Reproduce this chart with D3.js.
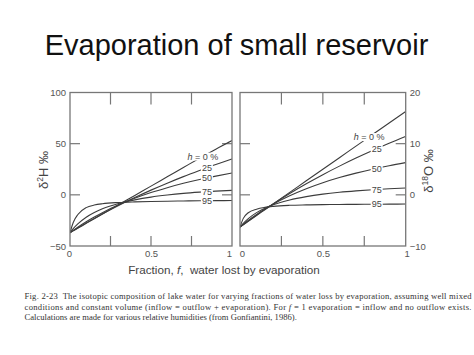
<!DOCTYPE html>
<html><head><meta charset="utf-8">
<script src="https://cdn.jsdelivr.net/npm/d3@7"></script>
<style>body{margin:0;background:#fff}svg{display:block}</style>
</head><body>
<script>
// ---- data ----
const fraction = [0, 0.02, 0.05, 0.1, 0.15, 0.2, 0.3, 0.4, 0.5, 0.6, 0.7, 0.8, 0.9, 1];
const humidity = ["0", "25", "50", "75", "95"];

// δ2H ‰ (left panel)
const d2H_h0  = [-37, -35.2, -32.5, -27.9, -23.4, -18.8, -9.7, -0.6, 8.5, 17.6, 26.7, 35.8, 44.6, 53];
const d2H_h25 = [-37, -35.0, -32.2, -27.5, -23.0, -18.7, -10.4, -2.7, 4.6, 11.4, 17.8, 23.8, 29.6, 35];
const d2H_h50 = [-37, -34.7, -31.4, -26.3, -21.7, -17.4, -9.8, -3.4, 2.2, 7.0, 11.3, 15.0, 18.3, 21.3];
const d2H_h75 = [-37, -33.1, -28.2, -21.9, -17.3, -13.7, -8.5, -4.9, -2.2, -0.2, 1.4, 2.6, 3.6, 4.4];
const d2H_h95 = [-37, -27, -19, -12.5, -10, -8.7, -7.5, -6.9, -6.5, -6.2, -6.0, -5.8, -5.7, -5.6];

// δ18O ‰ (right panel)
const d18O_h0  = [-6.3, -5.85, -5.17, -4.04, -2.91, -1.78, 0.48, 2.74, 5.0, 7.26, 9.52, 11.78, 14.04, 16.3];
const d18O_h25 = [-6.3, -5.82, -5.11, -3.96, -2.85, -1.78, 0.26, 2.16, 3.94, 5.61, 7.19, 8.67, 10.07, 11.4];
const d18O_h50 = [-6.3, -5.76, -4.99, -3.83, -2.78, -1.83, -0.19, 1.19, 2.36, 3.37, 4.24, 5.01, 5.69, 6.3];
const d18O_h75 = [-6.3, -5.56, -4.64, -3.48, -2.62, -1.95, -1.0, -0.35, 0.13, 0.49, 0.77, 1.0, 1.19, 1.35];
const d18O_h95 = [-6.3, -4.6, -3.5, -2.8, -2.45, -2.25, -2.05, -1.97, -1.92, -1.88, -1.86, -1.84, -1.82, -1.8];

const xTickValues = [0, 0.25, 0.5, 0.75, 1];
const xTickLabels = {0: "0", 0.5: "0.5", 1: "1"};
const d2HTicks = [100, 50, 0, -50];
const d18OTicks = [20, 10, 0, -10];

const captionLines = [
  "Fig. 2-23  The isotopic composition of lake water for varying fractions of water loss by evaporation, assuming well mixed",
  ["conditions and constant volume (inflow = outflow + evaporation). For ", "f", " = 1 evaporation = inflow and no outflow exists."],
  "Calculations are made for various relative humidities (from Gonfiantini, 1986)."
];

// ---- drawing ----
const W = 474, H = 355;
const svg = d3.select("body").append("svg").attr("width", W).attr("height", H)
  .style("font-family", "'Liberation Sans', Arial, sans-serif");

svg.append("text").attr("x", 236.5).attr("y", 55).attr("text-anchor", "middle")
  .attr("font-size", 29).attr("fill", "#111").text("Evaporation of small reservoir");

const plotTop = 92.5, plotBot = 246;
const ink = "#3c3c3c", frame = "#777";

function panel(opts) {
  const x = d3.scaleLinear().domain([0, 1]).range([opts.x0, opts.x1]);
  const y = d3.scaleLinear().domain(opts.yDomain).range([plotBot, plotTop]);
  const g = svg.append("g");
  const id = "clip" + opts.name;
  svg.append("clipPath").attr("id", id).append("rect")
    .attr("x", opts.x0).attr("y", plotTop).attr("width", opts.x1 - opts.x0).attr("height", plotBot - plotTop);

  const inner = opts.yTicks.slice(1, -1);
  g.selectAll(".yl").data(inner).join("line")
    .attr("x1", opts.x0).attr("x2", opts.x0 + 10).attr("y1", d => y(d)).attr("y2", d => y(d))
    .attr("stroke", frame).attr("stroke-width", 1.2);
  g.selectAll(".yr").data(inner).join("line")
    .attr("x1", opts.x1).attr("x2", opts.x1 - 10).attr("y1", d => y(d)).attr("y2", d => y(d))
    .attr("stroke", frame).attr("stroke-width", 1.2);
  const mid = xTickValues.slice(1, -1);
  g.selectAll(".xt").data(mid).join("line")
    .attr("x1", d => x(d)).attr("x2", d => x(d)).attr("y1", plotTop).attr("y2", plotTop + 12)
    .attr("stroke", frame).attr("stroke-width", 1.2);
  g.selectAll(".xb").data(mid).join("line")
    .attr("x1", d => x(d)).attr("x2", d => x(d)).attr("y1", plotBot).attr("y2", plotBot - 10)
    .attr("stroke", frame).attr("stroke-width", 1.2);

  const yAxis = (opts.side === "left" ? d3.axisLeft(y) : d3.axisRight(y))
    .tickValues(opts.yTicks).tickSize(0).tickPadding(4).tickFormat(d3.format("d"));
  const ya = g.append("g").attr("transform", `translate(${opts.side === "left" ? opts.x0 : opts.x1},0)`).call(yAxis);
  ya.select(".domain").remove();
  ya.selectAll("text").attr("font-size", 9.5).attr("fill", "#555")
    .attr("font-family", "'Liberation Sans', Arial, sans-serif");

  const xAxis = d3.axisBottom(x).tickValues(xTickValues).tickSize(0).tickPadding(4)
    .tickFormat(d => xTickLabels[d] || "");
  const xa = g.append("g").attr("transform", `translate(0,${plotBot})`).call(xAxis);
  xa.select(".domain").remove();
  xa.selectAll("text").attr("font-size", 9.5).attr("fill", "#555")
    .attr("font-family", "'Liberation Sans', Arial, sans-serif")
    .attr("dx", d => d === 1 ? opts.endShift : (d === 0 ? opts.startShift : 0));

  const line = d3.line().x((d, i) => x(fraction[i])).y(d => y(d)).curve(d3.curveMonotoneX);
  g.append("g").attr("clip-path", `url(#${id})`).selectAll("path").data(opts.series).join("path")
    .attr("d", d => line(d)).attr("fill", "none").attr("stroke", ink).attr("stroke-width", 1.1);

  g.append("rect").attr("x", opts.x0).attr("y", plotTop).attr("width", opts.x1 - opts.x0).attr("height", plotBot - plotTop)
    .attr("fill", "none").attr("stroke", frame).attr("stroke-width", 1.3);

  const valAt = (s, f) => {
    const i = d3.bisectRight(fraction, f) - 1;
    const t = (f - fraction[i]) / (fraction[i + 1] - fraction[i]);
    return s[i] + t * (s[i + 1] - s[i]);
  };
  opts.series.forEach((s, k) => {
    const f = k === 0 ? opts.labelF0 : opts.labelF;
    const lg = g.append("g");
    const bg = lg.append("rect").attr("fill", "#fff");
    const t = lg.append("text").attr("x", x(f)).attr("y", y(valAt(s, f)) + 3.2)
      .attr("text-anchor", "middle").attr("font-size", 9).attr("fill", "#444");
    if (k === 0) {
      t.append("tspan").attr("font-style", "italic").text("h");
      t.append("tspan").text(" = 0 %");
    } else {
      t.text(humidity[k]);
    }
    const bb = t.node().getBBox();
    bg.attr("x", bb.x - 1).attr("y", bb.y + 1).attr("width", bb.width + 2).attr("height", bb.height - 2);
  });

  const yt = svg.append("text").attr("transform", `translate(${opts.titleX},${opts.titleY}) rotate(-90)`)
    .attr("text-anchor", "middle").attr("font-size", 13).attr("fill", "#444");
  yt.append("tspan").text("δ");
  yt.append("tspan").attr("font-size", 8.5).attr("dy", -5).text(opts.sup);
  yt.append("tspan").attr("dy", 5).text(opts.elem + " ‰");
}

panel({
  name: "L", x0: 70, x1: 232, yDomain: [-50, 100], yTicks: d2HTicks, side: "left",
  series: [d2H_h0, d2H_h25, d2H_h50, d2H_h75, d2H_h95],
  labelF0: 0.82, labelF: 0.845, startShift: -1, endShift: -3,
  titleX: 48, titleY: 170, sup: "2", elem: "H"
});
panel({
  name: "R", x0: 240, x1: 405.7, yDomain: [-10, 20], yTicks: d18OTicks, side: "right",
  series: [d18O_h0, d18O_h25, d18O_h50, d18O_h75, d18O_h95],
  labelF0: 0.78, labelF: 0.825, startShift: 2, endShift: 1,
  titleX: 433, titleY: 171, sup: "18", elem: "O"
});

const xt = svg.append("text").attr("x", 224).attr("y", 274).attr("text-anchor", "middle")
  .attr("font-size", 11.7).attr("fill", "#444").attr("xml:space", "preserve");
xt.append("tspan").text("Fraction, ");
xt.append("tspan").attr("font-style", "italic").text("f");
xt.append("tspan").text(",  water lost by evaporation");

const cap = svg.append("g").attr("font-family", "'Liberation Serif', 'Times New Roman', serif")
  .attr("font-size", 8.6).attr("fill", "#333");
const capY = [299, 309.5, 320];
captionLines.forEach((ln, i) => {
  const t = cap.append("text").attr("x", 24.5).attr("y", capY[i]).attr("xml:space", "preserve");
  if (i < 2) t.attr("textLength", 447).attr("lengthAdjust", "spacing");
  if (Array.isArray(ln)) {
    ln.forEach((p, j) => t.append("tspan").attr("font-style", j === 1 ? "italic" : null).text(p));
  } else t.text(ln);
});
</script>
</body></html>
